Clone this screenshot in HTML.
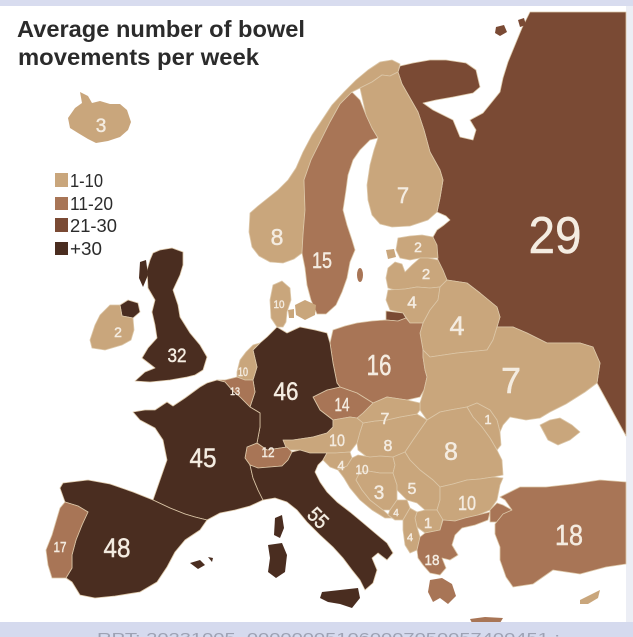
<!DOCTYPE html>
<html><head><meta charset="utf-8"><style>
html,body{margin:0;padding:0;background:#fff;}
svg{display:block;}
.t{font-family:"Liberation Sans",sans-serif;}
.l{font-family:"Liberation Sans",sans-serif;fill:#f4ece1;text-anchor:middle;stroke:#f4ece1;stroke-width:0.45;}
</style></head><body>
<svg width="633" height="637" viewBox="0 0 633 637" xmlns="http://www.w3.org/2000/svg">
<rect x="0" y="0" width="633" height="637" fill="#ffffff"/>
<rect x="0" y="0" width="633" height="6" fill="#d8dcef"/>
<rect x="626" y="6" width="7" height="617" fill="#eceef5"/>

<!-- title -->
<text class="t" x="17" y="37" font-size="23" font-weight="bold" fill="#2b2b2b" textLength="288" lengthAdjust="spacingAndGlyphs">Average number of bowel</text>
<text class="t" x="18" y="65" font-size="23" font-weight="bold" fill="#2b2b2b" textLength="241" lengthAdjust="spacingAndGlyphs">movements per week</text>

<!-- legend -->
<rect x="55" y="173" width="13" height="14" fill="#c9a67c"/>
<rect x="55" y="197" width="13" height="13" fill="#a87556"/>
<rect x="55" y="218" width="13" height="14" fill="#7a4a34"/>
<rect x="55" y="242" width="13" height="13" fill="#4a2d20"/>
<text class="t" x="70" y="187" font-size="18" fill="#2b2b2b" textLength="33" lengthAdjust="spacingAndGlyphs">1-10</text>
<text class="t" x="70" y="210" font-size="18" fill="#2b2b2b" textLength="43" lengthAdjust="spacingAndGlyphs">11-20</text>
<text class="t" x="70" y="232" font-size="18" fill="#2b2b2b" textLength="47" lengthAdjust="spacingAndGlyphs">21-30</text>
<text class="t" x="70" y="255" font-size="18" fill="#2b2b2b" textLength="32" lengthAdjust="spacingAndGlyphs">+30</text>

<g stroke="#dcc7a8" stroke-width="0.8" stroke-linejoin="round">
<!-- Russia -->
<polygon fill="#7a4a34" points="530,12 626,12 626,436 597,383 600,363 593,347 580,343 560,343 547,343 527,333 513,327 497,327 500,317 497,307 480,293 467,283 447,280 438,260 433,237 437,230 444,225 450,220 446,216 437,212 440,198 443,180 440,170 430,152 424,130 418,112 410,98 402,84 398,72 400,66 413,63 430,60 446,60 466,63 476,70 480,87 473,93 453,97 436,100 423,103 433,110 453,120 460,137 473,140 476,130 470,120 483,113 500,92 503,78 508,62 515,45 522,28"/>
<polygon fill="#7a4a34" stroke="none" points="496,27 504,25 507,32 500,36 495,33"/>
<polygon fill="#7a4a34" stroke="none" points="518,20 524,18 526,25 520,27"/>

<!-- Iceland -->
<polygon fill="#c9a67c" stroke="none" points="68,118 75,108 82,103 80,92 88,96 92,103 100,101 110,104 120,104 127,110 131,122 128,130 120,137 108,141 96,143 88,139 78,133 70,128"/>

<!-- Norway -->
<polygon fill="#c9a67c" points="250,213 258,206 268,198 278,190 288,180 296,168 303,152 312,135 322,120 332,105 344,92 356,80 368,70 380,62 392,60 400,64 398,72 390,76 382,75 372,82 360,88 352,92 340,104 330,122 320,142 311,160 304,180 305,210 303,235 302,253 294,259 283,263 270,262 259,256 252,247 249,232"/>
<!-- Sweden -->
<polygon fill="#a87556" points="340,104 352,92 360,100 366,115 372,128 378,138 370,140 360,150 353,160 348,175 346,190 343,210 347,225 352,240 355,250 350,262 347,278 342,292 336,305 326,314 317,314 311,300 307,285 305,268 302,253 303,235 305,210 304,180 311,160 320,142 330,122"/>
<ellipse cx="360" cy="275" rx="3" ry="7" fill="#a87556" stroke="none"/>
<!-- Finland -->
<polygon fill="#c9a67c" points="360,88 372,82 382,75 390,76 398,72 402,84 410,98 418,112 424,130 430,152 440,170 443,180 440,198 437,212 428,220 410,226 392,227 380,224 372,215 368,200 367,185 370,165 374,150 378,138 372,128 366,115"/>

<!-- Baltics -->
<polygon fill="#c9a67c" points="398,238 410,236 422,235 433,237 437,245 438,258 428,258 420,258 410,260 400,258 396,250"/>
<polygon fill="#c9a67c" stroke="none" points="386,250 394,249 396,257 388,259"/>
<polygon fill="#c9a67c" points="388,268 395,262 402,264 405,272 412,265 420,258 428,258 438,260 443,270 447,280 440,287 430,288 417,287 405,289 395,290 388,288 386,278"/>
<polygon fill="#c9a67c" points="388,290 405,289 417,287 430,288 440,287 438,300 430,310 423,323 410,323 403,313 390,310 386,300"/>
<polygon fill="#7a4a34" points="386,311 403,313 406,318 398,321 386,320"/>
<!-- Belarus -->
<polygon fill="#c9a67c" points="438,300 440,287 447,280 467,283 480,293 497,307 500,317 497,327 493,340 487,350 457,353 430,357 423,350 420,333 423,323 430,310"/>
<!-- Poland -->
<polygon fill="#a87556" points="330,343 333,330 345,326 357,323 372,321 386,320 398,321 406,318 410,323 423,323 420,333 423,350 423,357 425,370 427,377 424,390 420,397 407,400 387,397 373,403 357,393 340,387 337,383 333,363"/>
<!-- Ukraine -->
<polygon fill="#c9a67c" points="423,350 430,357 457,353 487,350 493,340 497,327 513,327 527,333 547,343 560,343 580,343 593,347 600,363 597,383 585,392 566,404 550,412 540,418 526,420 510,417 503,425 500,432 497,420 490,410 477,403 467,407 450,410 440,412 427,420 420,410 420,403 424,390 427,377 425,370 423,357"/>
<polygon fill="#c9a67c" points="540,425 550,420 560,418 572,425 580,432 570,440 558,445 548,440"/>
<!-- Moldova -->
<polygon fill="#c9a67c" points="467,407 477,403 490,410 497,420 500,432 501,445 497,450 490,438 482,427 473,417"/>
<!-- Romania -->
<polygon fill="#c9a67c" points="427,420 440,412 450,410 467,407 473,417 482,427 490,438 497,450 502,460 503,475 493,477 480,479 467,480 453,484 440,487 433,480 420,470 410,460 405,452 413,440 420,430"/>
<!-- Hungary -->
<polygon fill="#c9a67c" points="363,423 375,421 387,420 400,417 417,414 427,420 420,430 413,440 405,452 395,458 387,460 375,458 367,457 358,450 357,443 360,432"/>
<!-- Slovakia -->
<polygon fill="#c9a67c" points="373,403 387,397 407,400 420,403 420,410 417,414 400,417 387,420 375,421 363,423 357,418 363,413"/>
<!-- Czech -->
<polygon fill="#a87556" points="313,397 327,390 340,387 357,393 373,403 363,413 357,418 350,417 333,420 320,410"/>
<!-- Germany -->
<polygon fill="#4a2d20" points="277,327 287,333 300,327 315,330 327,333 330,343 333,363 337,383 340,387 327,390 313,397 320,410 333,420 333,427 327,433 313,437 293,440 287,447 267,450 257,443 260,427 260,413 250,407 255,392 253,380 257,367 253,350 260,343 267,337"/>
<!-- Denmark -->
<polygon fill="#c9a67c" points="273,285 282,281 290,288 291,300 287,312 286,322 283,327 277,327 271,318 270,300"/>
<polygon fill="#c9a67c" stroke="none" points="295,305 305,300 316,305 315,315 305,320 296,315"/>
<polygon fill="#c9a67c" stroke="none" points="288,310 294,309 294,318 289,318"/>
<!-- Netherlands -->
<polygon fill="#c9a67c" points="237,372 240,360 246,352 253,345 260,343 253,350 257,367 253,380 245,380 237,377"/>
<!-- Belgium -->
<polygon fill="#a87556" points="217,380 225,380 237,377 245,380 253,380 255,392 250,407 240,397 232,390 225,382"/>
<!-- Austria -->
<polygon fill="#c9a67c" points="283,440 293,440 313,437 327,433 333,427 333,420 350,417 357,418 363,423 360,432 357,443 350,452 335,453 327,453 310,453 300,450 287,450"/>
<!-- Switzerland -->
<polygon fill="#a87556" points="247,447 257,443 267,450 287,447 292,452 288,460 282,466 270,467 258,468 250,465 245,458"/>
<!-- France -->
<polygon fill="#4a2d20" points="133,412 145,410 155,410 167,402 173,406 185,398 200,387 207,383 217,380 225,382 232,390 240,397 250,407 260,413 260,427 257,443 247,447 245,458 250,465 253,478 258,490 263,500 250,506 235,510 220,513 207,520 195,517 185,514 170,508 153,500 160,480 167,460 163,440 155,428 140,420"/>
<!-- Italy -->
<polygon fill="#4a2d20" points="250,465 258,468 270,467 282,466 288,460 292,452 300,450 310,453 327,453 323,460 318,465 315,472 320,482 327,492 337,502 350,512 362,522 375,533 387,543 393,553 387,560 378,553 372,558 377,570 373,583 365,590 360,580 352,570 343,558 333,547 320,535 307,522 297,510 287,502 275,498 263,500 258,490 253,478"/>
<polygon fill="#4a2d20" stroke="none" points="322,592 340,590 358,588 360,598 352,608 340,604 328,602 320,598"/>
<polygon fill="#4a2d20" stroke="none" points="268,545 282,543 287,555 285,572 276,578 268,572 270,558"/>
<polygon fill="#4a2d20" stroke="none" points="275,518 282,515 284,528 280,538 274,535"/>
<!-- Slovenia -->
<polygon fill="#c9a67c" points="323,460 327,453 335,453 350,452 352,458 347,466 338,470 330,467"/>
<!-- Croatia -->
<polygon fill="#c9a67c" points="347,466 352,458 358,455 370,457 380,456 393,457 395,465 393,473 380,473 368,471 360,472 356,480 362,490 370,500 383,510 392,518 385,518 372,510 360,500 350,488 344,478 338,470"/>
<!-- Bosnia -->
<polygon fill="#c9a67c" points="360,472 368,471 380,473 393,473 397,485 397,500 390,510 383,510 370,500 362,490 356,480"/>
<!-- Serbia -->
<polygon fill="#c9a67c" points="393,457 405,452 410,460 420,470 433,480 440,487 440,500 437,510 425,510 417,503 407,500 397,490 397,485 393,473 395,465"/>
<!-- Montenegro -->
<polygon fill="#c9a67c" points="390,510 397,500 407,500 410,508 403,520 395,520 388,515"/>
<!-- N Macedonia -->
<polygon fill="#c9a67c" points="417,512 425,510 437,510 443,518 440,530 425,533 417,527 415,518"/>
<!-- Albania -->
<polygon fill="#c9a67c" points="403,520 410,508 417,512 415,518 417,527 420,537 417,550 410,553 405,545 403,530"/>
<!-- Bulgaria -->
<polygon fill="#c9a67c" points="440,487 453,484 467,480 480,479 493,477 503,478 500,485 497,500 490,510 478,515 465,518 455,521 443,520 437,510 440,500"/>
<!-- Greece -->
<polygon fill="#a87556" points="417,550 420,537 425,533 440,530 443,520 455,521 465,518 478,515 490,512 488,520 475,525 462,528 455,535 452,545 458,555 450,560 442,558 446,568 440,575 430,573 423,565 418,558"/>
<polygon fill="#a87556" stroke="none" points="430,580 442,578 452,584 456,596 448,604 440,598 433,602 428,592"/>
<polygon fill="#a87556" stroke="none" points="470,619 485,617 503,618 500,623 472,623"/>
<!-- Turkey -->
<polygon fill="#a87556" points="490,510 497,503 503,505 512,510 510,518 500,522 490,522"/>
<polygon fill="#a87556" points="500,497 520,487 546,487 573,484 600,480 626,482 626,564 606,567 580,574 553,570 533,584 513,587 506,577 500,560 500,547 495,534 495,524 503,514 512,510 505,500"/>
<polygon fill="#c9a67c" stroke="none" points="580,600 592,594 600,590 598,598 588,604 580,604"/>
<!-- Spain -->
<polygon fill="#4a2d20" points="60,488 63,483 88,480 110,484 133,492 153,500 170,508 185,514 195,517 207,520 200,530 185,540 175,552 167,567 157,582 140,592 115,596 95,598 80,595 72,582 66,578 72,568 72,555 76,540 82,525 88,512 78,506 65,502"/>
<polygon fill="#4a2d20" stroke="none" points="190,563 200,560 205,565 198,569"/>
<polygon fill="#4a2d20" stroke="none" points="208,557 213,558 212,562"/>
<!-- Portugal -->
<polygon fill="#a87556" points="65,502 78,506 88,512 82,525 76,540 72,555 72,568 66,578 52,578 48,565 46,550 52,535 57,518 60,508"/>
<!-- UK -->
<polygon fill="#4a2d20" points="153,253 160,250 172,248 183,252 183,265 180,275 173,290 178,305 180,317 190,333 200,345 207,357 203,370 195,375 187,377 170,380 150,382 135,381 145,372 155,368 142,358 148,348 157,338 155,325 152,312 155,300 148,288 147,270 150,260"/>
<polygon fill="#4a2d20" stroke="none" points="140,262 146,260 148,275 143,287 139,278"/>
<polygon fill="#4a2d20" points="120,305 128,300 138,303 140,312 133,318 122,316"/>
<!-- Ireland -->
<polygon fill="#c9a67c" points="90,340 95,325 100,315 110,305 120,305 122,316 133,318 134,330 131,340 122,345 105,350 92,348"/>
</g>

<!-- labels -->
<text class="l" x="101" y="132" font-size="19">3</text>
<text class="l" x="277" y="245" font-size="23">8</text>
<text class="l" x="322" y="268" font-size="22" textLength="20" lengthAdjust="spacingAndGlyphs">15</text>
<text class="l" x="403" y="203" font-size="22">7</text>
<text class="l" x="555" y="253" font-size="52" textLength="53" lengthAdjust="spacingAndGlyphs" stroke-width="0.9">29</text>
<text class="l" x="418" y="252" font-size="14">2</text>
<text class="l" x="426" y="279" font-size="15">2</text>
<text class="l" x="412" y="308" font-size="17">4</text>
<text class="l" x="457" y="335" font-size="27">4</text>
<text class="l" x="379" y="375" font-size="29" textLength="25" lengthAdjust="spacingAndGlyphs">16</text>
<text class="l" x="511" y="393" font-size="36">7</text>
<text class="l" x="279" y="308" font-size="11" textLength="11" lengthAdjust="spacingAndGlyphs">10</text>
<text class="l" x="118" y="337" font-size="14">2</text>
<text class="l" x="177" y="362" font-size="19" textLength="19" lengthAdjust="spacingAndGlyphs">32</text>
<text class="l" x="243" y="376" font-size="12" textLength="10" lengthAdjust="spacingAndGlyphs">10</text>
<text class="l" x="235" y="395" font-size="11" textLength="10" lengthAdjust="spacingAndGlyphs">13</text>
<text class="l" x="286" y="400" font-size="25" textLength="25" lengthAdjust="spacingAndGlyphs">46</text>
<text class="l" x="203" y="467" font-size="27" textLength="27" lengthAdjust="spacingAndGlyphs">45</text>
<text class="l" x="268" y="457" font-size="14" textLength="13" lengthAdjust="spacingAndGlyphs">12</text>
<text class="l" x="342" y="411" font-size="18" textLength="15" lengthAdjust="spacingAndGlyphs">14</text>
<text class="l" x="337" y="446" font-size="17" textLength="16" lengthAdjust="spacingAndGlyphs">10</text>
<text class="l" x="385" y="424" font-size="16">7</text>
<text class="l" x="388" y="451" font-size="16">8</text>
<text class="l" x="451" y="460" font-size="25">8</text>
<text class="l" x="488" y="424" font-size="13">1</text>
<text class="l" x="341" y="470" font-size="13">4</text>
<text class="l" x="362" y="474" font-size="13" textLength="13" lengthAdjust="spacingAndGlyphs">10</text>
<text class="l" x="379" y="499" font-size="19">3</text>
<text class="l" x="412" y="494" font-size="16">5</text>
<text class="l" x="396" y="516" font-size="10">4</text>
<text class="l" x="428" y="528" font-size="15">1</text>
<text class="l" x="410" y="541" font-size="11">4</text>
<text class="l" x="467" y="510" font-size="20" textLength="18" lengthAdjust="spacingAndGlyphs">10</text>
<text class="l" x="432" y="565" font-size="15" textLength="15" lengthAdjust="spacingAndGlyphs">18</text>
<text class="l" x="569" y="545" font-size="29" textLength="28" lengthAdjust="spacingAndGlyphs">18</text>
<text class="l" x="117" y="557" font-size="27" textLength="27" lengthAdjust="spacingAndGlyphs">48</text>
<text class="l" x="60" y="552" font-size="15" textLength="13" lengthAdjust="spacingAndGlyphs">17</text>
<text class="l" x="318" y="525" font-size="21" textLength="20" lengthAdjust="spacingAndGlyphs" transform="rotate(45 318 518)">55</text>

<!-- bottom band -->
<rect x="0" y="622" width="633" height="15" fill="#d5daee"/>
<text class="t" x="97" y="643" font-size="15" fill="#9ea2b4" textLength="463" lengthAdjust="spacingAndGlyphs">RPT: 20231005_000000051060007050057400451 :</text>
</svg>
</body></html>
